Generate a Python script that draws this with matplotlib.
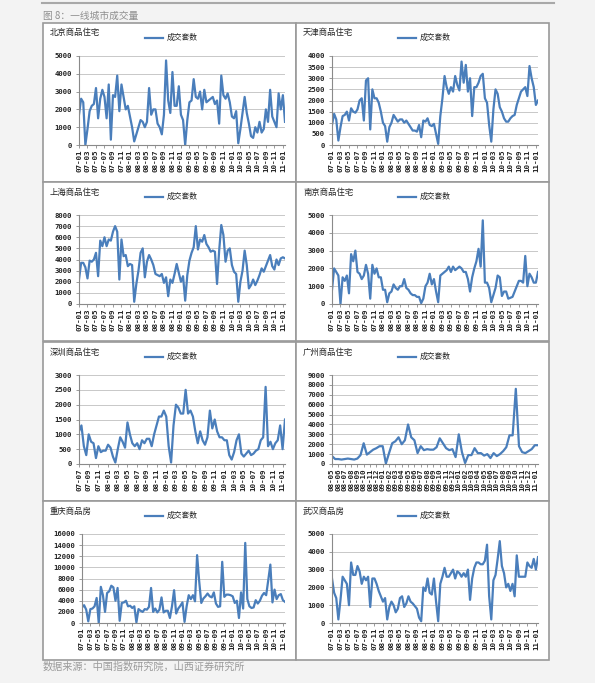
import matplotlib
matplotlib.use("Agg")
import matplotlib.pyplot as plt
import numpy as np
from matplotlib.lines import Line2D
from matplotlib.patches import Rectangle

# weekly-ish sales (units), sampled twice a month, months counted from 2007-01
beijing = [1700, 2600, 2400, 0, 900, 1900, 2200, 2300, 3200, 1500,
           2600, 3100, 2700, 1500, 3400, 300, 2800, 2700, 3900, 1900,
           3400, 2700, 2000, 2200, 1600, 1000, 200, 600, 1000, 1400,
           1300, 1000, 1300, 3200, 1700, 2000, 2000, 1200, 1000, 600,
           1700, 4750, 2500, 1800, 4100, 2200, 2200, 3300, 1700, 1400,
           0, 1400, 2400, 2500, 3700, 2700, 2600, 3000, 2000, 3100,
           2400, 2500, 2600, 2700, 2300, 2500, 1200, 3900, 2800, 2600,
           2900, 2400, 1600, 1500, 1900, 100, 900, 1800, 2700, 1800,
           1200, 500, 400, 1000, 700, 1300, 700, 900, 2000, 1300,
           3100, 1600, 1300, 1000, 2900, 2000, 2800, 1300]
tianjin = [900, 1400, 1150, 200, 800, 1300, 1350, 1500, 1100, 1650,
           1500, 1450, 1600, 2000, 2100, 1100, 2900, 3000, 700, 2500,
           2100, 2100, 1900, 1500, 1000, 850, 150, 800, 1000, 1350,
           1200, 1050, 1150, 1150, 1000, 1100, 950, 800, 650, 650,
           600, 900, 350, 1100, 1050, 1200, 900, 850, 950, 500,
           50, 1300, 2100, 3100, 2600, 2300, 2600, 2400, 3100, 2700,
           2450, 3750, 2800, 3600, 2400, 3000, 1300, 2600, 2600, 2800,
           3100, 3200, 2100, 1900, 900, 150, 1600, 2500, 2300, 1700,
           1500, 1200, 1050, 1050, 1200, 1300, 1350, 1800, 2100, 2400,
           2500, 2600, 2200, 3550, 3000, 2600, 1800, 2000]
shanghai = [2200, 3700, 3700, 3300, 2300, 3900, 3800, 4000, 4600, 2500,
            5700, 5200, 6000, 5200, 5800, 5700, 6500, 7000, 6500, 2200,
            5800, 4300, 4400, 3400, 3600, 3500, 200, 1800, 3000, 4600,
            5000, 2400, 3800, 4400, 4000, 3500, 2700, 2600, 2500, 2700,
            1900, 2400, 700, 2200, 1900, 2700, 3600, 2800, 2000, 2500,
            300, 2600, 3900, 4600, 5100, 7000, 4900, 5800, 5600, 6200,
            5400, 5100, 4700, 4800, 4700, 1800, 4800, 7100, 6200, 3800,
            4800, 5000, 3500, 2900, 2700, 200, 2000, 3000, 4800, 3500,
            1400, 1700, 2200, 1700, 2100, 2600, 3200, 2900, 3400, 3900,
            4400, 3400, 3100, 4000, 3500, 4100, 4200, 4100]
nanjing = [800, 2000, 1800, 1600, 0, 1500, 1300, 1600, 600, 2800,
           2400, 3000, 1800, 1700, 1400, 1600, 2200, 1700, 300, 2200,
           1700, 2000, 1500, 1500, 800, 800, 100, 600, 700, 1100,
           900, 800, 1000, 1000, 1400, 900, 800, 600, 500, 500,
           400, 400, 50, 300, 1000, 1200, 1700, 1100, 1400, 700,
           100, 1600, 1700, 1800, 1900, 2100, 1800, 2100, 1900, 2000,
           2100, 2000, 1800, 1800, 1400, 700, 1500, 2000, 2400, 3100,
           2100, 4700, 1200, 1200, 900, 100, 500, 900, 1600, 1500,
           450, 700, 700, 300, 350, 400, 700, 1000, 1300, 1300,
           1200, 2700, 1000, 1700, 1500, 1200, 1200, 1800]
shenzhen = [1100, 1300, 600, 300, 1000, 750, 700, 200, 600, 400,
            450, 450, 650, 550, 250, 50, 500, 900, 750, 550,
            1400, 1000, 700, 600, 700, 500, 800, 700, 850, 850,
            600, 1000, 1300, 1600, 1600, 1800, 1600, 600, 50, 1300,
            2000, 1900, 1700, 1700, 2500, 1700, 1800, 1600, 1100, 700,
            1100, 800, 650, 900, 1800, 1200, 1500, 1100, 900, 900,
            800, 800, 300, 150, 400, 800, 1000, 350, 250, 350,
            450, 300, 350, 450, 500, 800, 900, 2600, 600, 750,
            500, 700, 800, 1300, 500, 1500]
guangzhou = [800, 500, 500, 450, 500, 550, 500, 450, 550, 900,
             2100, 950, 1200, 1450, 1600, 1800, 1800, 50, 1100, 2100,
             2300, 2700, 2000, 2400, 4000, 2700, 2400, 1100, 1800, 1400,
             1500, 1450, 1450, 1700, 2600, 2100, 1600, 1400, 1500, 700,
             3000, 1200, 100, 900, 900, 1600, 1100, 1100, 850, 1000,
             600, 1100, 800, 1000, 1300, 1700, 2900, 2900, 7600, 1800,
             1200, 1100, 1300, 1500, 1900, 1900]
chongqing = [2800, 3200, 2400, 300, 2500, 2600, 3000, 4500, 0, 6500,
             5000, 2000, 5400, 5700, 6700, 6400, 4000, 6300, 400, 3600,
             3700, 4000, 3000, 3100, 2700, 3000, 100, 2500, 2200, 2000,
             2500, 2400, 2900, 6300, 2000, 2600, 1900, 2400, 4600, 1900,
             2200, 2200, 900, 3000, 5900, 1700, 2600, 3100, 3700, 200,
             3000, 5000, 4300, 5000, 3900, 12200, 7500, 3600, 4400, 4800,
             5300, 4800, 4600, 5500, 3500, 2900, 3000, 11000, 4700, 5100,
             5100, 5000, 4800, 3600, 4000, 900, 5500, 2600, 14400, 4300,
             3000, 2700, 2800, 4100, 3500, 4000, 4900, 5400, 5000, 7700,
             10500, 3700, 6000, 4300, 5000, 5200, 4100, 3800]
wuhan = [2500, 1700, 1400, 200, 1300, 2600, 2400, 2200, 1000, 3400,
         2700, 2700, 3200, 2900, 2200, 2600, 2400, 2600, 900, 2500,
         2500, 2200, 1800, 1500, 1200, 1400, 200, 900, 1200, 1000,
         600, 800, 1400, 1500, 900, 1100, 1500, 1200, 1100, 950,
         800, 300, 100, 2000, 1800, 2500, 1700, 1600, 2500, 1200,
         100, 2200, 2600, 3100, 2600, 2600, 2800, 3000, 2500, 2900,
         2800, 2600, 2800, 2600, 3000, 1300, 2500, 3100, 3400, 3400,
         3300, 3300, 3500, 4400, 1500, 200, 2400, 2700, 3600, 4600,
         3200, 2800, 2000, 2200, 1800, 2200, 1500, 3800, 2600, 2600,
         2600, 2600, 3400, 3200, 3100, 3600, 3000, 3700]

titles = ["北京商品住宅", "天津商品住宅", "上海商品住宅", "南京商品住宅",
          "深圳商品住宅", "广州商品住宅", "重庆商品房", "武汉商品房"]
series = [beijing, tianjin, shanghai, nanjing, shenzhen, guangzhou, chongqing, wuhan]
first_month = [0, 0, 0, 0, 6, 16, 0, 0]
y_max = [5000, 4000, 8000, 5000, 3000, 9000, 16000, 5000]
y_step = [1000, 500, 1000, 1000, 500, 1000, 2000, 1000]
label_step = [2, 2, 2, 2, 2, 1, 2, 2]
legend_label = "成交套数"
fig_title = "图 8：一线城市成交量"
source = "数据来源：中国指数研究院，山西证券研究所"

LINE = "#4a7ebb"
W, H = 595, 683
PANEL_X = [43, 296]
PANEL_Y = [23, 182, 342, 501]
PW, PH = 253, 159

plt.rcParams['font.family'] = ['Noto Sans CJK SC', 'DejaVu Sans']


def fx(x):
    return x / W


def fy(y):
    return 1 - y / H


def month_labels(start, stop, step):
    return [f"{7 + m // 12:02d}-{m % 12 + 1:02d}" for m in range(start, stop + 1, step)]


fig = plt.figure(figsize=(5.95, 6.83), dpi=100, facecolor="#f3f3f3")

fig.add_artist(Line2D([fx(42), fx(554)], [fy(3), fy(3)], color="#a8a8a8", lw=1.5,
                      transform=fig.transFigure))
fig.text(fx(43), fy(15.5), fig_title, fontsize=7, color="#8f8f8f", va="center")
fig.text(fx(43), fy(667), source, fontsize=7.3, color="#9a9a9a", va="center")

for i, vals in enumerate(series):
    px0 = PANEL_X[i % 2]
    py0 = PANEL_Y[i // 2]
    fig.add_artist(Rectangle((fx(px0), fy(py0 + PH)), PW / W, PH / H,
                             transform=fig.transFigure, facecolor="white",
                             edgecolor="#9a9a9a", lw=1.2, zorder=-5))
    fig.text(fx(px0 + 7), fy(py0 + 10), titles[i], fontsize=6, color="#222222", va="center")
    fig.add_artist(Line2D([fx(px0 + 102), fx(px0 + 120)], [fy(py0 + 15)] * 2,
                          color=LINE, lw=1.6, transform=fig.transFigure))
    fig.text(fx(px0 + 124), fy(py0 + 15), legend_label, fontsize=5.6, color="#222222", va="center")

    left = px0 + (39 if y_max[i] >= 10000 else 36)
    ax = fig.add_axes([fx(left), fy(py0 + 122), (px0 + 242 - left) / W, 89 / H])
    ax.set_facecolor("none")
    t = first_month[i] + 0.5 * np.arange(len(vals))
    ax.plot(t, vals, color=LINE, lw=1.6, solid_joinstyle="round")
    ax.set_xlim(first_month[i], t[-1])
    ax.set_ylim(0, y_max[i])
    ax.set_yticks(np.arange(0, y_max[i] + 1, y_step[i]))
    ticks = list(range(first_month[i], 49, label_step[i]))
    ax.set_xticks(ticks)
    ax.set_xticklabels(month_labels(first_month[i], 48, label_step[i]), rotation=90,
                       family="DejaVu Sans Mono", fontweight="bold", fontsize=5.4,
                       color="#222222")
    for lab in ax.get_yticklabels():
        lab.set_family("DejaVu Sans Mono")
        lab.set_fontweight("bold")
        lab.set_fontsize(5.2)
        lab.set_color("#222222")
    ax.grid(axis="y", color="#c8c8c8", lw=0.7)
    ax.set_axisbelow(True)
    for s in ["top", "right"]:
        ax.spines[s].set_visible(False)
    for s in ["left", "bottom"]:
        ax.spines[s].set_color("#8a8a8a")
        ax.spines[s].set_linewidth(0.8)
    ax.tick_params(axis="both", length=2, width=0.6, color="#8a8a8a")
    ax.tick_params(axis="y", pad=3)
    ax.tick_params(axis="x", pad=1.5)

fig.savefig("out.png", dpi=100, facecolor=fig.get_facecolor())
